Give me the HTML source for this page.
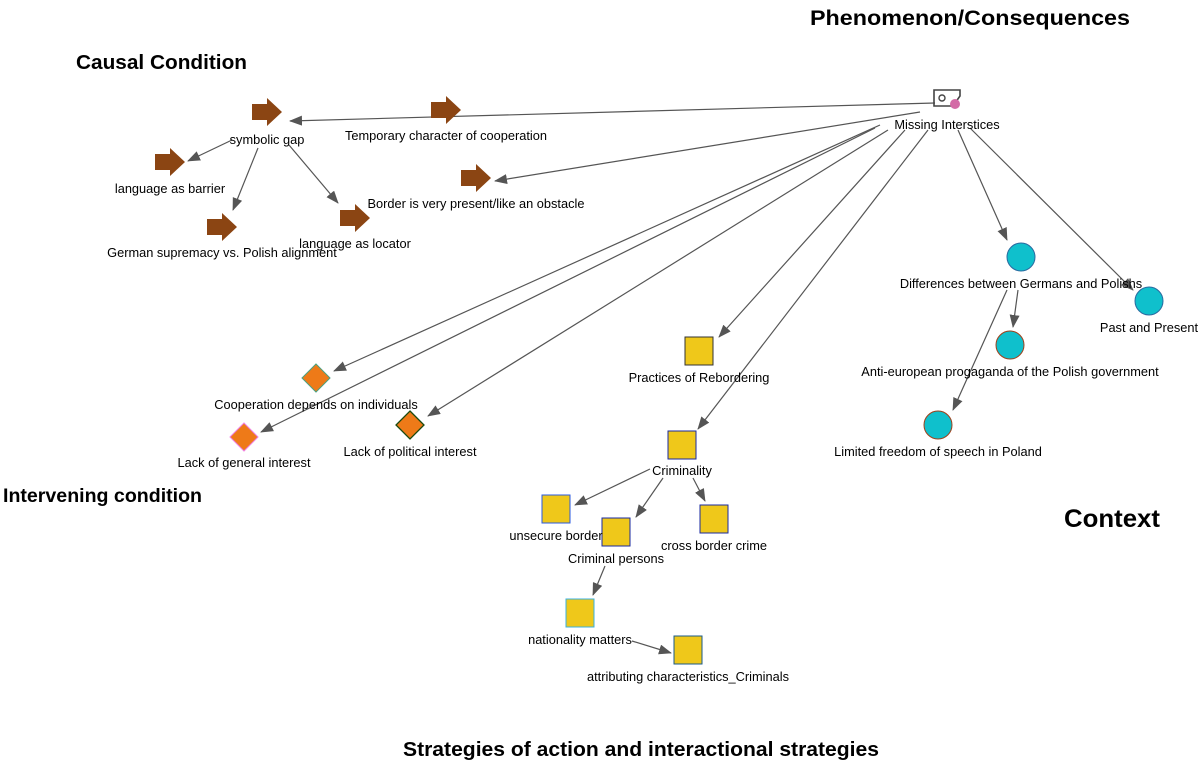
<!DOCTYPE html>
<html><head><meta charset="utf-8"><style>
html,body{margin:0;padding:0;background:#fff;}
svg{display:block;}
text{font-family:"Liberation Sans",Arial,sans-serif;fill:#000;}
.l{font-size:12.8px;text-anchor:middle;}
.t{font-weight:bold;}
</style></head><body>
<svg width="1200" height="763" viewBox="0 0 1200 763" xmlns="http://www.w3.org/2000/svg">
<defs>
<marker id="a" markerWidth="13" markerHeight="10" refX="12" refY="5" orient="auto" markerUnits="userSpaceOnUse">
<path d="M0,0 L13,5 L0,10 z" fill="#555"/></marker>
<g id="arr"><path d="M-15,-8 h15 v-6 l15,14 l-15,14 v-6 h-15 z" fill="#8B4513"/></g>
</defs>
<g stroke="#555" stroke-width="1.2" fill="none" marker-end="url(#a)">
<line x1="935" y1="103" x2="290" y2="121"/>
<line x1="920" y1="112" x2="495" y2="181"/>
<line x1="880" y1="125" x2="334" y2="371"/>
<line x1="875" y1="128" x2="261" y2="432"/>
<line x1="888" y1="130" x2="428" y2="416"/>
<line x1="905" y1="130" x2="719" y2="337"/>
<line x1="928" y1="130" x2="698" y2="429"/>
<line x1="958" y1="130" x2="1007" y2="240"/>
<line x1="970" y1="128" x2="1133" y2="290"/>
<line x1="232" y1="140" x2="188" y2="161"/>
<line x1="258" y1="148" x2="233" y2="210"/>
<line x1="289" y1="145" x2="338" y2="203"/>
<line x1="1007" y1="290" x2="953" y2="410"/>
<line x1="1018" y1="290" x2="1013" y2="327"/>
<line x1="650" y1="469" x2="575" y2="505"/>
<line x1="663" y1="478" x2="636" y2="517"/>
<line x1="693" y1="478" x2="705" y2="501"/>
<line x1="605" y1="566" x2="593" y2="595"/>
<line x1="632" y1="641" x2="671" y2="653"/>
</g>
<use href="#arr" x="267" y="112"/>
<use href="#arr" x="446" y="110"/>
<use href="#arr" x="170" y="162"/>
<use href="#arr" x="222" y="227"/>
<use href="#arr" x="355" y="218"/>
<use href="#arr" x="476" y="178"/>
<path d="M934,90 h26 v6 l-7,10 h-19 z" fill="none" stroke="#444" stroke-width="1.6"/>
<circle cx="942" cy="98" r="3" fill="none" stroke="#444" stroke-width="1.4"/>
<circle cx="955" cy="104" r="5" fill="#d36ba6"/>
<circle cx="1021" cy="257" r="14" fill="#0fc0cc" stroke="#2a6aa0"/>
<circle cx="1149" cy="301" r="14" fill="#0fc0cc" stroke="#2a6aa0"/>
<circle cx="1010" cy="345" r="14" fill="#0fc0cc" stroke="#a0401a"/>
<circle cx="938" cy="425" r="14" fill="#0fc0cc" stroke="#a0401a"/>
<rect x="685" y="337" width="28" height="28" fill="#efc81a" stroke="#333"/>
<rect x="668" y="431" width="28" height="28" fill="#efc81a" stroke="#1a2aa0"/>
<rect x="542" y="495" width="28" height="28" fill="#efc81a" stroke="#2a5ae0"/>
<rect x="602" y="518" width="28" height="28" fill="#efc81a" stroke="#1a2aa0"/>
<rect x="700" y="505" width="28" height="28" fill="#efc81a" stroke="#1a2aa0"/>
<rect x="566" y="599" width="28" height="28" fill="#efc81a" stroke="#3ab0e0"/>
<rect x="674" y="636" width="28" height="28" fill="#efc81a" stroke="#1a5a8a"/>
<path d="M316,364 l14,14 l-14,14 l-14,-14 z" fill="#ee7a18" stroke="#4aa080"/>
<path d="M244,423 l14,14 l-14,14 l-14,-14 z" fill="#ee7a18" stroke="#f080e0"/>
<path d="M410,411 l14,14 l-14,14 l-14,-14 z" fill="#ee7a18" stroke="#1a4a10" stroke-width="1.3"/>
<text class="l" x="947" y="129">Missing Interstices</text>
<text class="l" x="267" y="144">symbolic gap</text>
<text class="l" x="446" y="140">Temporary character of cooperation</text>
<text class="l" x="170" y="193">language as barrier</text>
<text class="l" x="222" y="257">German supremacy vs. Polish alignment</text>
<text class="l" x="355" y="248">language as locator</text>
<text class="l" x="476" y="208">Border is very present/like an obstacle</text>
<text class="l" x="1021" y="288">Differences between Germans and Polishs</text>
<text class="l" x="1149" y="332">Past and Present</text>
<text class="l" x="1010" y="376">Anti-european progaganda of the Polish government</text>
<text class="l" x="938" y="456">Limited freedom of speech in Poland</text>
<text class="l" x="699" y="382">Practices of Rebordering</text>
<text class="l" x="682" y="475">Criminality</text>
<text class="l" x="556" y="540">unsecure border</text>
<text class="l" x="616" y="563">Criminal persons</text>
<text class="l" x="714" y="550">cross border crime</text>
<text class="l" x="580" y="644">nationality matters</text>
<text class="l" x="688" y="681">attributing characteristics_Criminals</text>
<text class="l" x="316" y="409">Cooperation depends on individuals</text>
<text class="l" x="244" y="467">Lack of general interest</text>
<text class="l" x="410" y="456">Lack of political interest</text>
<text class="t" x="970" y="25" text-anchor="middle" style="font-size:21.5px" textLength="320" lengthAdjust="spacingAndGlyphs">Phenomenon/Consequences</text>
<text class="t" x="76" y="69" style="font-size:20.5px" textLength="171" lengthAdjust="spacingAndGlyphs">Causal Condition</text>
<text class="t" x="3" y="502" style="font-size:19.5px" textLength="199" lengthAdjust="spacingAndGlyphs">Intervening condition</text>
<text class="t" x="1064" y="527" style="font-size:25px" textLength="96" lengthAdjust="spacingAndGlyphs">Context</text>
<text class="t" x="403" y="756" style="font-size:20.5px" textLength="476" lengthAdjust="spacingAndGlyphs">Strategies of action and interactional strategies</text>
</svg>
</body></html>
